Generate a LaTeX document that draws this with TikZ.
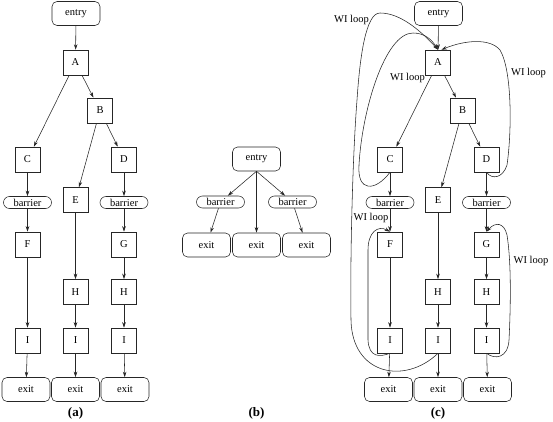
\documentclass[tikz,border=0pt]{standalone}
\usepackage{fontspec}
\setmainfont{Liberation Serif}
\usetikzlibrary{arrows.meta}
\tikzset{
  blk/.style={draw, minimum width=25pt, minimum height=25pt, inner sep=0pt},
  term/.style={draw, rounded corners=5pt, minimum width=48pt, minimum height=24pt, inner sep=0pt},
  barrier/.style={draw, rounded corners=6pt, minimum width=48pt, minimum height=12pt, inner sep=0pt},
  flow/.style={-{Stealth[length=5.5pt,width=3.5pt]}},
  lbl/.style={font=\fontsize{10.5}{12}\selectfont},
  panelcap/.style={font=\fontsize{13}{15}\selectfont\bfseries}
}
\begin{document}
\begin{tikzpicture}[x=1pt, y=-1pt, line width=0.55pt, draw=black!85,
  every node/.append style={font=\fontsize{10.5}{12}\selectfont}]
\useasboundingbox (0,0) rectangle (553,422);

% panels (a) and (c): same graph
\foreach \p/\dx in {a/0, c/362.5} {
  \node[term] (\p-entry) at (\dx+76, 13.5) {entry};
  \node[blk] (\p-A) at (\dx+75.5, 62.5) {A};
  \node[blk] (\p-B) at (\dx+100, 110.5) {B};
  \node[blk] (\p-C) at (\dx+27.5, 159.5) {C};
  \node[blk] (\p-D) at (\dx+124, 159.5) {D};
  \node[blk] (\p-E) at (\dx+75.5, 200) {E};
  \node[barrier] (\p-barL) at (\dx+27.5, 202.5) {barrier};
  \node[barrier] (\p-barR) at (\dx+124, 202.5) {barrier};
  \node[blk] (\p-F) at (\dx+27.5, 244.5) {F};
  \node[blk] (\p-G) at (\dx+124, 244.5) {G};
  \node[blk] (\p-H2) at (\dx+75.5, 292) {H};
  \node[blk] (\p-H3) at (\dx+124, 292) {H};
  \node[blk] (\p-I1) at (\dx+27.5, 340.5) {I};
  \node[blk] (\p-I2) at (\dx+75.5, 340.5) {I};
  \node[blk] (\p-I3) at (\dx+124, 340.5) {I};
  \node[term] (\p-X1) at (\dx+26, 389.5) {exit};
  \node[term] (\p-X2) at (\dx+75.5, 389.5) {exit};
  \node[term] (\p-X3) at (\dx+125, 389.5) {exit};
  \node[panelcap] (\p-cap) at (\dx+75.5, 413) {(\p)};

  % edges
  \draw[flow] (\p-entry) -- (\p-A);
  \draw[flow] (\p-A) -- (\p-B);
  \draw[flow] (\p-A) -- (\p-C);
  \draw[flow] (\p-B) -- (\p-E);
  \draw[flow] (\p-B) -- (\p-D);
  \draw[flow] (\p-C) -- (\p-barL);
  \draw[flow] (\p-D) -- (\p-barR);
  \draw[flow] (\p-barL) -- (\p-F);
  \draw[flow] (\p-barR) -- (\p-G);
  \draw[flow] (\p-F) -- (\p-I1);
  \draw[flow] (\p-E) -- (\p-H2);
  \draw[flow] (\p-G) -- (\p-H3);
  \draw[flow] (\p-H2) -- (\p-I2);
  \draw[flow] (\p-H3) -- (\p-I3);
  \draw[flow] (\p-I1) -- (\p-X1);
  \draw[flow] (\p-I2) -- (\p-X2);
  \draw[flow] (\p-I3) -- (\p-X3);
}

% panel (b)
\node[term] (b-entry) at (256.5, 159) {entry};
\node[barrier] (b-barL) at (220.5, 202) {barrier};
\node[barrier] (b-barR) at (292.5, 202) {barrier};
\node[term] (b-X1) at (206.5, 245) {exit};
\node[term] (b-X2) at (256.5, 245) {exit};
\node[term] (b-X3) at (306.5, 245) {exit};
\node[panelcap] (b-cap) at (256.5, 413) {(b)};
\draw[flow] (b-entry.south) -- (b-barL);
\draw[flow] (b-entry.south) -- (b-X2);
\draw[flow] (b-entry.south) -- (b-barR);
\draw[flow] (b-barL) -- (b-X1);
\draw[flow] (b-barR) -- (b-X3);

% WI loops of (c)
\draw[flow] (c-I2.south) .. controls (405,385) and (352,375) .. (351,320)
  .. controls (350,250) and (353,150) .. (357,100)
  .. controls (360,55) and (366,13) .. (380,13)
  .. controls (400,13) and (420,30) .. (c-A.north);
\draw[flow] (c-C.south) .. controls (375,192) and (357,192) .. (359,165)
  .. controls (362,110) and (385,33) .. (413,33)
  .. controls (425,33) and (432,40) .. (c-A.north);
\draw[flow] (c-D.south) .. controls (492,180) and (503,178) .. (507,165)
  .. controls (512,130) and (512,70) .. (500,50)
  .. controls (490,38) and (465,40) .. (c-A.75);
\draw[flow] (c-I1.south) .. controls (380,357) and (369,358) .. (368,340)
  -- (368,250) .. controls (368,232) and (378,225) .. (c-F.north);
\draw[flow] (c-I3.south) .. controls (495,360) and (508,358) .. (509,340)
  .. controls (511,300) and (511,260) .. (507,235)
  .. controls (504,222) and (495,222) .. (c-G.north);
\node[lbl] (wl1) at (351.5, 20) {WI loop};
\node[lbl] (wl2) at (407.5, 78) {WI loop};
\node[lbl] (wl3) at (528.5, 73) {WI loop};
\node[lbl] (wl4) at (371, 218) {WI loop};
\node[lbl] (wl5) at (531, 261) {WI loop};
\end{tikzpicture}
\end{document}
